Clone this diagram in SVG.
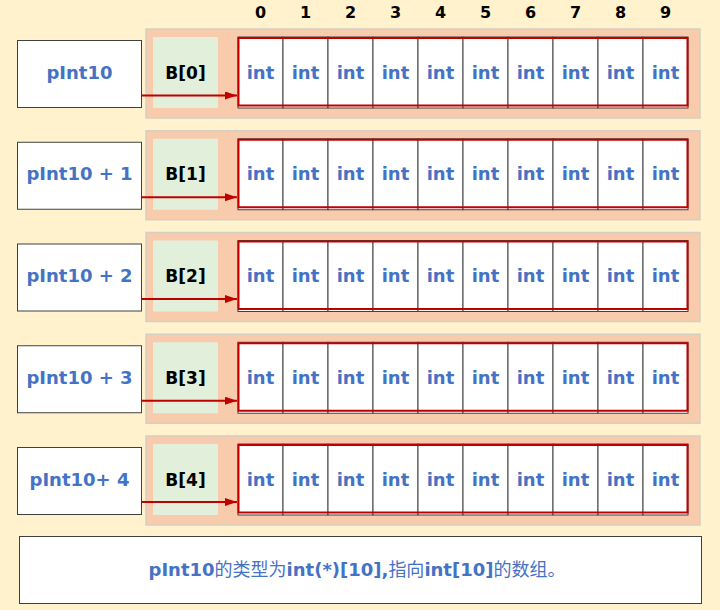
<svg xmlns="http://www.w3.org/2000/svg" width="720" height="610" viewBox="0 0 720 610">
<defs>
<style>
.bg{fill:#FFF2CC}
.peach{fill:#F8CBAD;stroke:#D6D0C4;stroke-width:1.5}
.green{fill:#E2EFDA}
.cell{fill:#FFFFFF;stroke:#404040;stroke-width:1}
.redbox{fill:none;stroke:#C00000;stroke-width:2}
.ptr{fill:#FFFFFF;stroke:#404040;stroke-width:1}
.t{font-family:"DejaVu Sans","Noto Sans CJK SC",sans-serif;font-weight:bold;text-anchor:middle}
.blue{fill:#4472C4}
.blk{fill:#000000}
.int{font-size:18px}
.lbl{font-size:18px}
.b{font-size:17px}
.idx{font-size:16px}
.conn{stroke:#C00000;stroke-width:2;fill:none;marker-end:url(#ah)}
.note{fill:#FFFFFF;stroke:#404040;stroke-width:1}
.cjk{font-family:"Noto Sans CJK SC",sans-serif;font-weight:normal}
</style>
<marker id="ah" markerWidth="12" markerHeight="8" refX="12" refY="4" orient="auto" markerUnits="userSpaceOnUse">
<path d="M0,0 L12,4 L0,8 Z" fill="#C00000"/>
</marker>
<g id="cells">
<rect class="peach" x="146" y="29" width="554" height="89"/>
<rect class="green" x="153" y="37" width="65" height="71"/>
<rect class="cell" x="238" y="37" width="45" height="71"/>
<rect class="cell" x="283" y="37" width="45" height="71"/>
<rect class="cell" x="328" y="37" width="45" height="71"/>
<rect class="cell" x="373" y="37" width="45" height="71"/>
<rect class="cell" x="418" y="37" width="45" height="71"/>
<rect class="cell" x="463" y="37" width="45" height="71"/>
<rect class="cell" x="508" y="37" width="45" height="71"/>
<rect class="cell" x="553" y="37" width="45" height="71"/>
<rect class="cell" x="598" y="37" width="45" height="71"/>
<rect class="cell" x="643" y="37" width="45" height="71"/>
<rect class="redbox" x="238.5" y="38" width="449" height="67.5"/>
<g class="t blue int">
<text x="260.5" y="78.5">int</text>
<text x="305.5" y="78.5">int</text>
<text x="350.5" y="78.5">int</text>
<text x="395.5" y="78.5">int</text>
<text x="440.5" y="78.5">int</text>
<text x="485.5" y="78.5">int</text>
<text x="530.5" y="78.5">int</text>
<text x="575.5" y="78.5">int</text>
<text x="620.5" y="78.5">int</text>
<text x="665.5" y="78.5">int</text>
</g>
</g>
</defs>
<rect class="bg" x="0" y="0" width="720" height="610"/>
<g id="indices" class="t blk idx">
<text x="260.5" y="18">0</text>
<text x="305.5" y="18">1</text>
<text x="350.5" y="18">2</text>
<text x="395.5" y="18">3</text>
<text x="440.5" y="18">4</text>
<text x="485.5" y="18">5</text>
<text x="530.5" y="18">6</text>
<text x="575.5" y="18">7</text>
<text x="620.5" y="18">8</text>
<text x="665.5" y="18">9</text>
</g>
<g id="row0">
<use href="#cells"/>
<text class="t blk b" x="185.5" y="78.5">B[0]</text>
</g>
<g id="row1" transform="translate(0,101.75)">
<use href="#cells"/>
<text class="t blk b" x="185.5" y="78.5">B[1]</text>
</g>
<g id="row2" transform="translate(0,203.5)">
<use href="#cells"/>
<text class="t blk b" x="185.5" y="78.5">B[2]</text>
</g>
<g id="row3" transform="translate(0,305.25)">
<use href="#cells"/>
<text class="t blk b" x="185.5" y="78.5">B[3]</text>
</g>
<g id="row4" transform="translate(0,407)">
<use href="#cells"/>
<text class="t blk b" x="185.5" y="78.5">B[4]</text>
</g>
<g id="p0">
<rect class="ptr" x="17.5" y="40.5" width="124" height="67"/>
<text class="t blue lbl" x="79.5" y="78.5">pInt10</text>
</g>
<g id="p1">
<rect class="ptr" x="17.5" y="142.25" width="124" height="67"/>
<text class="t blue lbl" x="79.5" y="180.25">pInt10 + 1</text>
</g>
<g id="p2">
<rect class="ptr" x="17.5" y="244" width="124" height="67"/>
<text class="t blue lbl" x="79.5" y="282">pInt10 + 2</text>
</g>
<g id="p3">
<rect class="ptr" x="17.5" y="345.75" width="124" height="67"/>
<text class="t blue lbl" x="79.5" y="383.75">pInt10 + 3</text>
</g>
<g id="p4">
<rect class="ptr" x="17.5" y="447.5" width="124" height="67"/>
<text class="t blue lbl" x="79.5" y="485.5">pInt10+ 4</text>
</g>
<g id="connectors">
<line class="conn" x1="141" y1="95.5" x2="237" y2="95.5"/>
<line class="conn" x1="141" y1="197.25" x2="237" y2="197.25"/>
<line class="conn" x1="141" y1="299" x2="237" y2="299"/>
<line class="conn" x1="141" y1="400.75" x2="237" y2="400.75"/>
<line class="conn" x1="141" y1="502" x2="237" y2="502"/>
</g>
<g id="note">
<rect class="note" x="19.5" y="536.5" width="682" height="67"/>
<text class="t blue" font-size="18" x="357" y="576">pInt10<tspan class="cjk">的类型为</tspan>int(*)[10],<tspan class="cjk">指向</tspan>int[10]<tspan class="cjk">的数组。</tspan></text>
</g>
</svg>
